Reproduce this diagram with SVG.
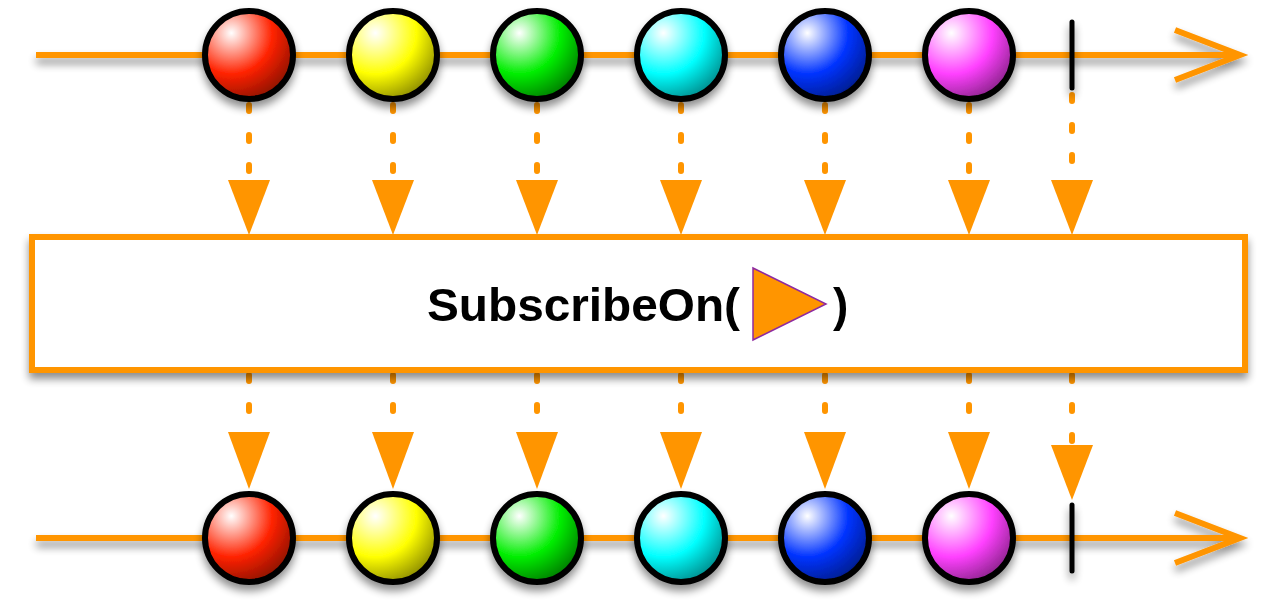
<svg xmlns="http://www.w3.org/2000/svg" width="1280" height="610" viewBox="0 0 1280 610">
<style>
.line{stroke:#ff9500;stroke-width:6;fill:none}
.dot{stroke:#ff9500;stroke-width:6;stroke-dasharray:6 24;stroke-linecap:round;fill:none}
.tri{fill:#ff9500}
.m{stroke:#000;stroke-width:6}
.term{stroke:#000;stroke-width:5;stroke-linecap:round}
.lbl{font-family:"Liberation Sans",Arial,sans-serif;font-weight:bold;font-size:46px;fill:#000}
</style>
<defs>
<filter id="sh" x="-20%" y="-20%" width="140%" height="160%"><feGaussianBlur in="SourceAlpha" stdDeviation="4"/><feOffset dy="6"/><feComponentTransfer><feFuncA type="linear" slope="0.45"/></feComponentTransfer><feMerge><feMergeNode/><feMergeNode in="SourceGraphic"/></feMerge></filter>
<radialGradient id="gr" cx="0.3" cy="0.25" r="0.85"><stop offset="0" stop-color="#fff"/><stop offset="0.55" stop-color="#ff2200"/><stop offset="1" stop-color="#801000"/></radialGradient>
<radialGradient id="gy" cx="0.3" cy="0.25" r="0.85"><stop offset="0" stop-color="#fff"/><stop offset="0.55" stop-color="#ffff00"/><stop offset="1" stop-color="#808000"/></radialGradient>
<radialGradient id="gg" cx="0.3" cy="0.25" r="0.85"><stop offset="0" stop-color="#fff"/><stop offset="0.55" stop-color="#00ee00"/><stop offset="1" stop-color="#007000"/></radialGradient>
<radialGradient id="gc" cx="0.3" cy="0.25" r="0.85"><stop offset="0" stop-color="#fff"/><stop offset="0.55" stop-color="#00ffff"/><stop offset="1" stop-color="#008080"/></radialGradient>
<radialGradient id="gb" cx="0.3" cy="0.25" r="0.85"><stop offset="0" stop-color="#fff"/><stop offset="0.55" stop-color="#0033ff"/><stop offset="1" stop-color="#001a80"/></radialGradient>
<radialGradient id="gm" cx="0.3" cy="0.25" r="0.85"><stop offset="0" stop-color="#fff"/><stop offset="0.55" stop-color="#ff40ff"/><stop offset="1" stop-color="#802080"/></radialGradient>
</defs>
<g id="connectors">
<g filter="url(#sh)">
<line class="line" x1="36" y1="55" x2="1240" y2="55"/>
<polyline class="line" points="1175,30 1240,55 1175,80"/>
<line class="line" x1="36" y1="538" x2="1240" y2="538"/>
<polyline class="line" points="1175,513 1240,538 1175,563"/>
</g>
<g>
<line class="dot" x1="249" y1="105" x2="249" y2="180"/><polygon class="tri" points="228,180 270,180 249,235"/>
<line class="dot" x1="393" y1="105" x2="393" y2="180"/><polygon class="tri" points="372,180 414,180 393,235"/>
<line class="dot" x1="537" y1="105" x2="537" y2="180"/><polygon class="tri" points="516,180 558,180 537,235"/>
<line class="dot" x1="681" y1="105" x2="681" y2="180"/><polygon class="tri" points="660,180 702,180 681,235"/>
<line class="dot" x1="825" y1="105" x2="825" y2="180"/><polygon class="tri" points="804,180 846,180 825,235"/>
<line class="dot" x1="969" y1="105" x2="969" y2="180"/><polygon class="tri" points="948,180 990,180 969,235"/>
<line class="dot" x1="1072" y1="95" x2="1072" y2="180"/><polygon class="tri" points="1051,180 1093,180 1072,235"/>
<line class="dot" x1="249" y1="375" x2="249" y2="432"/><polygon class="tri" points="228,432 270,432 249,489"/>
<line class="dot" x1="393" y1="375" x2="393" y2="432"/><polygon class="tri" points="372,432 414,432 393,489"/>
<line class="dot" x1="537" y1="375" x2="537" y2="432"/><polygon class="tri" points="516,432 558,432 537,489"/>
<line class="dot" x1="681" y1="375" x2="681" y2="432"/><polygon class="tri" points="660,432 702,432 681,489"/>
<line class="dot" x1="825" y1="375" x2="825" y2="432"/><polygon class="tri" points="804,432 846,432 825,489"/>
<line class="dot" x1="969" y1="375" x2="969" y2="432"/><polygon class="tri" points="948,432 990,432 969,489"/>
<line class="dot" x1="1072" y1="375" x2="1072" y2="445"/><polygon class="tri" points="1051,445 1093,445 1072,500"/>
</g>
</g>
<g id="operator" filter="url(#sh)">
<rect x="32" y="237" width="1213" height="133" fill="#fff" stroke="#ff9500" stroke-width="6"/>
<text class="lbl" x="427" y="321" textLength="313" lengthAdjust="spacingAndGlyphs">SubscribeOn(</text>
<polygon points="753,268 826,304 753,340" fill="#ff9500" stroke="#8e2aa0" stroke-width="1.5"/>
<text class="lbl" x="833" y="321">)</text>
</g>
<g id="top-marbles" filter="url(#sh)">
<circle class="m" cx="249" cy="55" r="44" fill="url(#gr)"/>
<circle class="m" cx="393" cy="55" r="44" fill="url(#gy)"/>
<circle class="m" cx="537" cy="55" r="44" fill="url(#gg)"/>
<circle class="m" cx="681" cy="55" r="44" fill="url(#gc)"/>
<circle class="m" cx="825" cy="55" r="44" fill="url(#gb)"/>
<circle class="m" cx="969" cy="55" r="44" fill="url(#gm)"/>
<line class="term" x1="1072" y1="22" x2="1072" y2="88"/>
</g>
<g id="bottom-marbles" filter="url(#sh)">
<circle class="m" cx="249" cy="538" r="44" fill="url(#gr)"/>
<circle class="m" cx="393" cy="538" r="44" fill="url(#gy)"/>
<circle class="m" cx="537" cy="538" r="44" fill="url(#gg)"/>
<circle class="m" cx="681" cy="538" r="44" fill="url(#gc)"/>
<circle class="m" cx="825" cy="538" r="44" fill="url(#gb)"/>
<circle class="m" cx="969" cy="538" r="44" fill="url(#gm)"/>
<line class="term" x1="1072" y1="505" x2="1072" y2="571"/>
</g>
</svg>
